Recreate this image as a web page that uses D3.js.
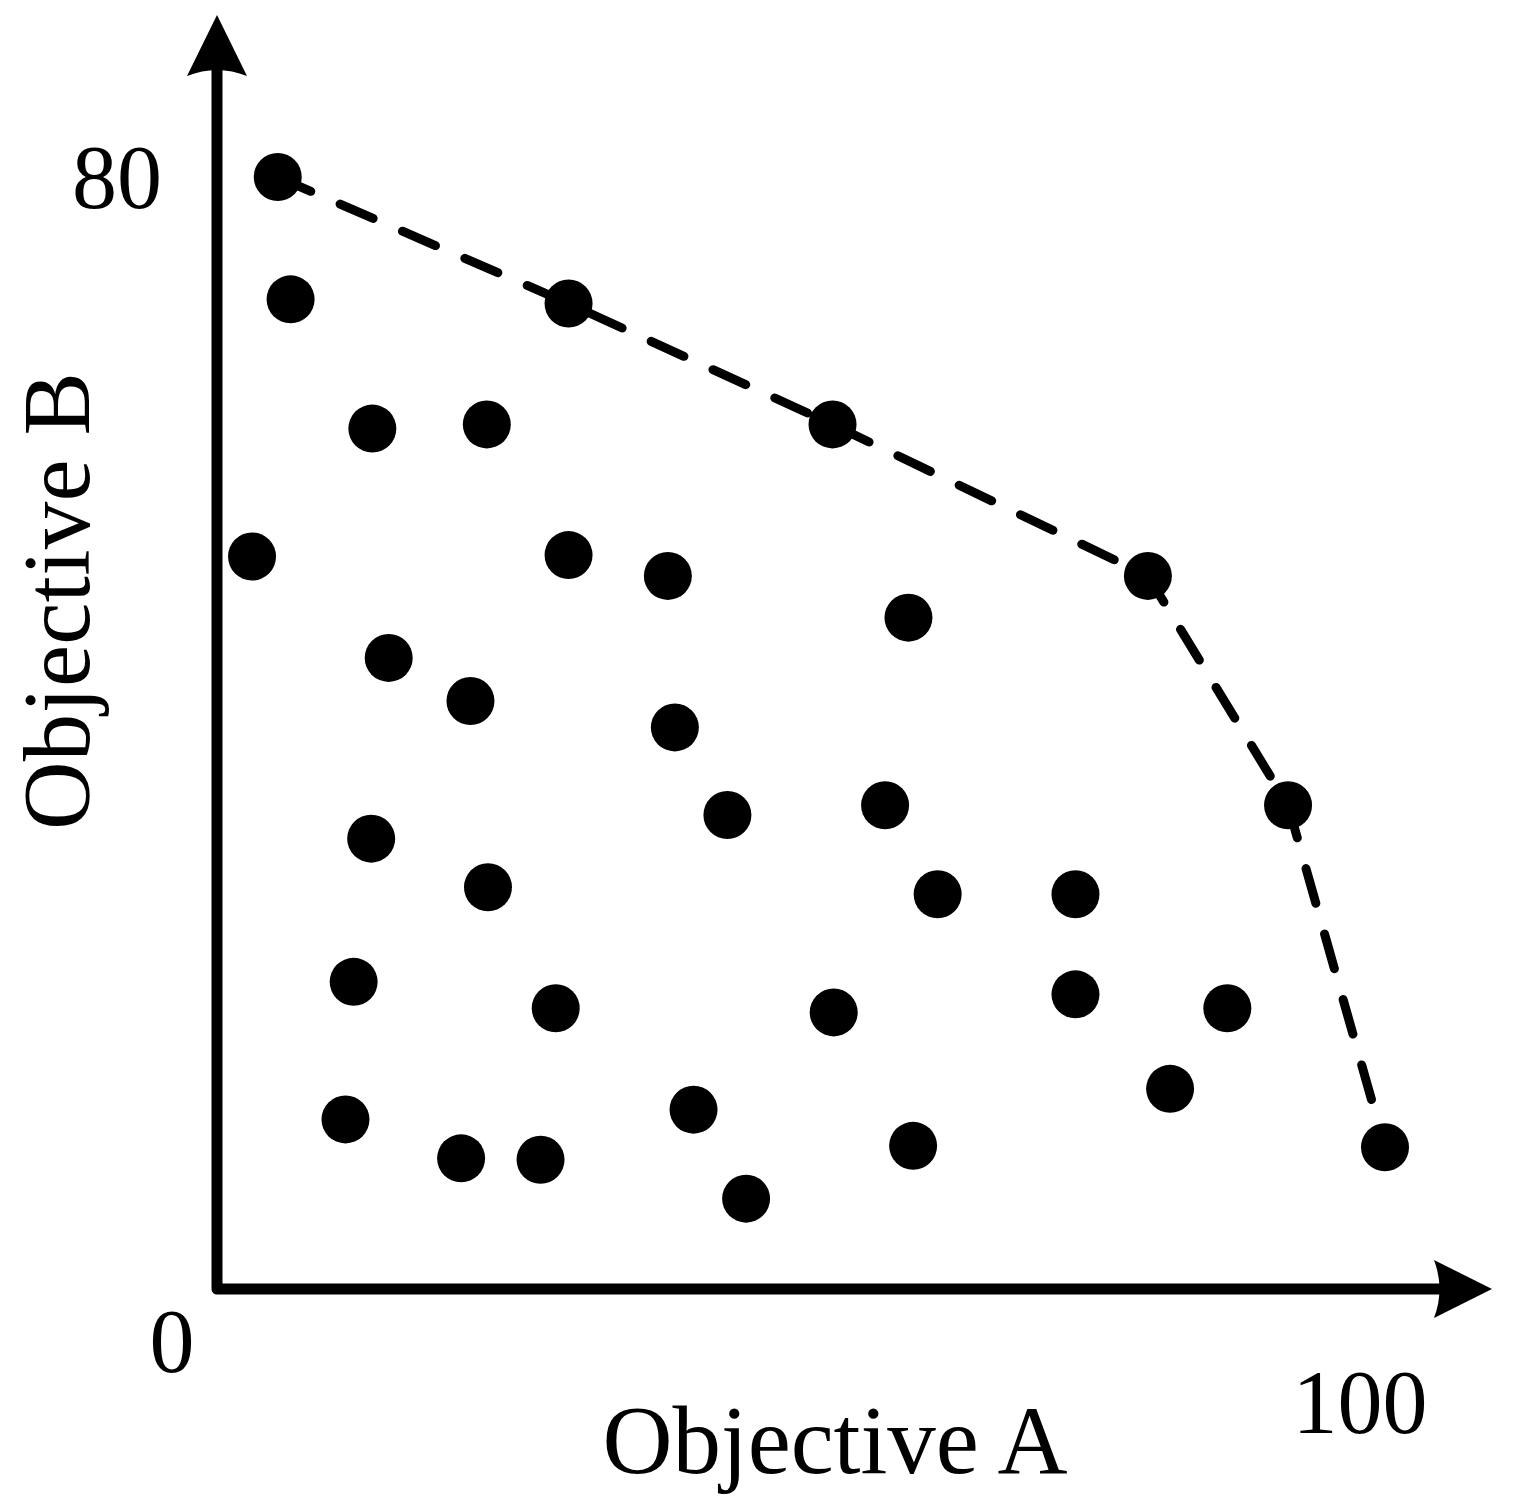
<!DOCTYPE html>
<html>
<head>
<meta charset="utf-8">
<script src="https://cdn.jsdelivr.net/npm/d3@7"></script>
<style>
  body { margin: 0; background: #fff; }
  text { font-family: "Liberation Serif", "Times New Roman", serif; fill: #000; }
</style>
</head>
<body>
<script>
// solutions: objective A (x) and objective B (y)
const objA = [5.2, 6.3, 30.1, 13.3, 23.1, 52.7, 3.0, 30.1, 38.6, 79.7, 59.2, 14.7,
  21.7, 39.2, 43.7, 57.2, 91.7, 13.2, 23.2, 61.7, 73.5, 11.7, 29.0, 52.8, 73.5,
  86.5, 81.6, 11.0, 20.9, 27.7, 40.8, 59.6, 45.3, 100];
const objB = [80.0, 71.2, 70.9, 61.9, 62.2, 62.2, 52.7, 52.8, 51.3, 51.3, 48.3, 45.4,
  42.3, 40.4, 34.1, 34.8, 34.8, 32.4, 28.9, 28.4, 28.4, 22.1, 20.2, 19.9, 21.2,
  20.2, 14.4, 12.2, 9.4, 9.3, 12.9, 10.3, 6.5, 10.2];
// indices of the pareto front points, in drawing order
const frontIdx = [0, 2, 5, 9, 16, 33];
const xTicks = [0, 100];
const yTicks = [80];

const W = 1513, H = 1507;
const ox = 217, oy = 1289;

const x = d3.scaleLinear().domain([0, 100]).range([ox, 1385]);
const y = d3.scaleLinear().domain([0, 80]).range([oy, 177]);

const svg = d3.select("body").append("svg")
  .attr("width", W)
  .attr("height", H);

const points = objA.map((a, i) => ({ a: a, b: objB[i] }));

// axes with arrow heads
svg.append("path")
  .attr("d", `M${ox},50 L${ox},${oy} L1460,${oy}`)
  .attr("fill", "none")
  .attr("stroke", "#000")
  .attr("stroke-width", 11)
  .attr("stroke-linejoin", "round");

svg.append("path")
  .attr("d", `M${ox},15 L${ox + 30},76 Q${ox},64 ${ox - 30},76 Z`)
  .attr("fill", "#000");

svg.append("path")
  .attr("d", `M1492,${oy} L1434,${oy - 29} Q1445,${oy} 1434,${oy + 29} Z`)
  .attr("fill", "#000");

// dashed front
const line = d3.line()
  .x((d) => x(d.a))
  .y((d) => y(d.b));

svg.append("path")
  .datum(frontIdx.map((i) => points[i]))
  .attr("d", line)
  .attr("fill", "none")
  .attr("stroke", "#000")
  .attr("stroke-width", 9)
  .attr("stroke-linecap", "round")
  .attr("stroke-dasharray", "36 32");

svg.selectAll("circle.pt")
  .data(points)
  .enter()
  .append("circle")
  .attr("class", "pt")
  .attr("cx", (d) => x(d.a))
  .attr("cy", (d) => y(d.b))
  .attr("r", 24)
  .attr("fill", "#000");

// tick labels
svg.append("text")
  .attr("x", 162)
  .attr("y", y(yTicks[0]) + 31)
  .attr("text-anchor", "end")
  .style("font-size", "90px")
  .text(yTicks[0]);

svg.append("text")
  .attr("x", 172)
  .attr("y", 1372)
  .attr("text-anchor", "middle")
  .style("font-size", "90px")
  .text(xTicks[0]);

svg.append("text")
  .attr("x", x(xTicks[1]) - 25)
  .attr("y", 1433)
  .attr("text-anchor", "middle")
  .style("font-size", "90px")
  .text(xTicks[1]);

// axis titles
svg.append("text")
  .attr("x", 835)
  .attr("y", 1473)
  .attr("text-anchor", "middle")
  .attr("textLength", 465)
  .style("font-size", "97px")
  .text("Objective A");

svg.append("text")
  .attr("transform", "translate(89,601) rotate(-90)")
  .attr("text-anchor", "middle")
  .attr("textLength", 458)
  .style("font-size", "95px")
  .text("Objective B");
</script>
</body>
</html>
